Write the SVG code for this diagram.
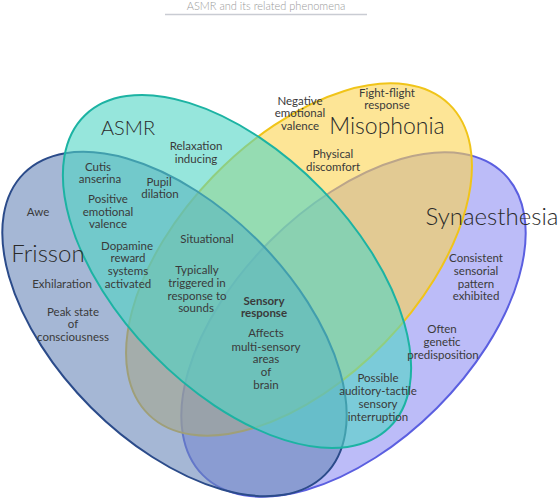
<svg xmlns="http://www.w3.org/2000/svg" width="560" height="499" viewBox="0 0 560 499">
<style>
.set{stroke-width:2}
.t{font-family:Lato,"Open Sans","Liberation Sans",sans-serif;font-size:11.5px;font-weight:400;fill:#3a3a3a;text-anchor:middle}
.h{font-size:23px;font-weight:300;fill:#2a2a2a}
.b{font-weight:bold}
.title{font-size:11px;font-weight:300;fill:#9a9a9a}
</style>
<rect width="560" height="499" fill="#ffffff"/>
<g id="title">
<text class="t title" x="266" y="10">ASMR and its related phenomena</text>
<line x1="165" y1="14.5" x2="367" y2="14.5" stroke="#c9ccd3" stroke-width="1.5"/>
</g>
<g id="synaesthesia"><ellipse class="set" cx="353.5" cy="324.5" rx="213" ry="118" transform="rotate(-45 353.5 324.5)" fill="#8f8ff3" fill-opacity="0.6" stroke="#5b5fe0"/></g>
<g id="misophonia"><ellipse class="set" cx="299" cy="259.5" rx="216" ry="119.5" transform="rotate(-46 299 259.5)" fill="#fcd450" fill-opacity="0.6" stroke="#f0c419"/></g>
<g id="frisson"><ellipse class="set" cx="174.5" cy="324" rx="213" ry="118" transform="rotate(45 174.5 324)" fill="#6987b9" fill-opacity="0.6" stroke="#2b4b8a"/></g>
<g id="asmr"><ellipse class="set" cx="237" cy="271.5" rx="218" ry="118" transform="rotate(45.7 237 271.5)" fill="#50d5c5" fill-opacity="0.6" stroke="#1cb3a3"/></g>
<g id="connectors"></g>
<g id="labels">
<text class="t h" x="128" y="135" style="font-size:20px">ASMR</text>
<text class="t h" x="387" y="134">Misophonia</text>
<text class="t h" x="492" y="225" style="font-size:24px">Synaesthesia</text>
<text class="t h" x="48" y="262" style="font-size:24px">Frisson</text>

<text class="t" x="196" y="150">Relaxation</text>
<text class="t" x="196" y="163">inducing</text>
<text class="t" x="300" y="105">Negative</text>
<text class="t" x="300" y="117">emotional</text>
<text class="t" x="300" y="130">valence</text>
<text class="t" x="387" y="97">Fight-flight</text>
<text class="t" x="387" y="109">response</text>
<text class="t" x="333" y="158">Physical</text>
<text class="t" x="333" y="171">discomfort</text>
<text class="t" x="98" y="171">Cutis</text>
<text class="t" x="100" y="183">anserina</text>
<text class="t" x="159" y="186">Pupil</text>
<text class="t" x="160" y="198">dilation</text>
<text class="t" x="108" y="203">Positive</text>
<text class="t" x="108" y="216">emotional</text>
<text class="t" x="108" y="228">valence</text>
<text class="t" x="38" y="216">Awe</text>
<text class="t" x="127" y="250">Dopamine</text>
<text class="t" x="128" y="262">reward</text>
<text class="t" x="128" y="275">systems</text>
<text class="t" x="128" y="288">activated</text>
<text class="t" x="62" y="288">Exhilaration</text>
<text class="t" x="73" y="316">Peak state</text>
<text class="t" x="73" y="328">of</text>
<text class="t" x="73" y="341">consciousness</text>
<text class="t" x="207" y="243">Situational</text>
<text class="t" x="197" y="274">Typically</text>
<text class="t" x="197" y="287">triggered in</text>
<text class="t" x="197" y="300">response to</text>
<text class="t" x="196" y="312">sounds</text>
<text class="t b" x="264" y="305">Sensory</text>
<text class="t b" x="264" y="317">response</text>
<text class="t" x="266" y="337">Affects</text>
<text class="t" x="266" y="351">multi-sensory</text>
<text class="t" x="266" y="363">areas</text>
<text class="t" x="266" y="376">of</text>
<text class="t" x="266" y="389">brain</text>
<text class="t" x="378" y="382">Possible</text>
<text class="t" x="378" y="395">auditory-tactile</text>
<text class="t" x="378" y="408">sensory</text>
<text class="t" x="378" y="421">interruption</text>
<text class="t" x="476" y="262">Consistent</text>
<text class="t" x="476" y="275">sensorial</text>
<text class="t" x="476" y="288">pattern</text>
<text class="t" x="476" y="300">exhibited</text>
<text class="t" x="442" y="333">Often</text>
<text class="t" x="442" y="346">genetic</text>
<text class="t" x="443" y="359">predisposition</text>
</g>
</svg>
